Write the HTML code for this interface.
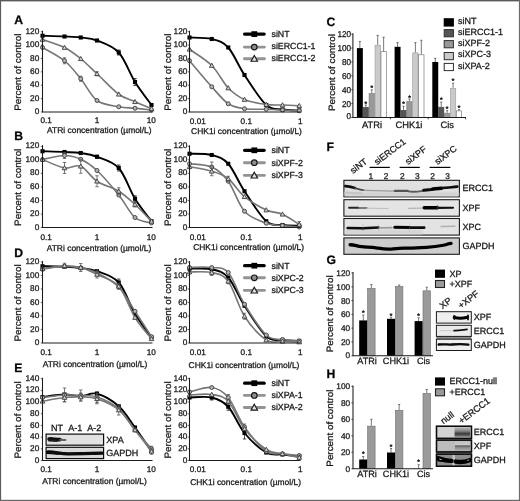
<!DOCTYPE html>
<html lang="en"><head><meta charset="utf-8"><title>Figure</title>
<style>html,body{margin:0;padding:0;background:#fff}svg{display:block}svg text{font-family:"Liberation Sans","Noto Sans CJK SC",sans-serif;text-rendering:geometricPrecision;stroke:#222;stroke-width:.28px}</style>
</head><body>
<svg width="520" height="501" viewBox="0 0 520 501">
<defs><filter id="b1" filterUnits="userSpaceOnUse" x="0" y="0" width="520" height="501"><feGaussianBlur stdDeviation="0.45"/></filter><filter id="b2" filterUnits="userSpaceOnUse" x="0" y="0" width="520" height="501"><feGaussianBlur stdDeviation="0.9"/></filter></defs>
<rect width="520" height="501" fill="#fff"/>
<rect x="0" y="0" width="520" height="1.4" fill="#5a5a5a"/>
<rect x="0" y="0" width="1.1" height="501" fill="#5a5a5a"/>
<rect x="518.9" y="0" width="1.1" height="501" fill="#6a6a6a"/>
<rect x="0" y="499.8" width="520" height="1.2" fill="#6a6a6a"/>
<text x="14.3" y="24.2" font-size="12.2" text-anchor="start" font-weight="bold" fill="#000" stroke="#000" stroke-width="0.45">A</text>
<text x="14.3" y="140" font-size="12.2" text-anchor="start" font-weight="bold" fill="#000" stroke="#000" stroke-width="0.45">B</text>
<text x="14.3" y="256.5" font-size="12.2" text-anchor="start" font-weight="bold" fill="#000" stroke="#000" stroke-width="0.45">D</text>
<text x="14.3" y="372" font-size="12.2" text-anchor="start" font-weight="bold" fill="#000" stroke="#000" stroke-width="0.45">E</text>
<text x="326.5" y="25.6" font-size="12.2" text-anchor="start" font-weight="bold" fill="#000" stroke="#000" stroke-width="0.45">C</text>
<text x="326.5" y="150.8" font-size="12.2" text-anchor="start" font-weight="bold" fill="#000" stroke="#000" stroke-width="0.45">F</text>
<text x="326.5" y="264.2" font-size="12.2" text-anchor="start" font-weight="bold" fill="#000" stroke="#000" stroke-width="0.45">G</text>
<text x="326.5" y="377.6" font-size="12.2" text-anchor="start" font-weight="bold" fill="#000" stroke="#000" stroke-width="0.45">H</text>
<text x="39.3" y="114.1" font-size="8.3" text-anchor="end" font-weight="normal" fill="#111">0</text>
<path d="M40.8,112.00 H42.5" stroke="#222" stroke-width="0.7"/>
<text x="39.3" y="100.71666666666667" font-size="8.3" text-anchor="end" font-weight="normal" fill="#111">20</text>
<path d="M40.8,98.62 H42.5" stroke="#222" stroke-width="0.7"/>
<text x="39.3" y="87.33333333333333" font-size="8.3" text-anchor="end" font-weight="normal" fill="#111">40</text>
<path d="M40.8,85.23 H42.5" stroke="#222" stroke-width="0.7"/>
<text x="39.3" y="73.94999999999999" font-size="8.3" text-anchor="end" font-weight="normal" fill="#111">60</text>
<path d="M40.8,71.85 H42.5" stroke="#222" stroke-width="0.7"/>
<text x="39.3" y="60.56666666666667" font-size="8.3" text-anchor="end" font-weight="normal" fill="#111">80</text>
<path d="M40.8,58.47 H42.5" stroke="#222" stroke-width="0.7"/>
<text x="39.3" y="47.18333333333333" font-size="8.3" text-anchor="end" font-weight="normal" fill="#111">100</text>
<path d="M40.8,45.08 H42.5" stroke="#222" stroke-width="0.7"/>
<text x="39.3" y="33.800000000000004" font-size="8.3" text-anchor="end" font-weight="normal" fill="#111">120</text>
<path d="M40.8,31.70 H42.5" stroke="#222" stroke-width="0.7"/>
<text transform="translate(20.7 72.25) rotate(-90) scale(1.06 1)" font-size="9.3" text-anchor="middle" font-weight="normal" fill="#111">Percent of control</text>
<path d="M42.50,35.75 C46.17,35.88 58.12,36.21 64.50,36.50 C70.88,36.79 75.33,36.83 80.75,37.50 C86.17,38.17 90.67,38.00 97.00,40.50 C103.33,43.00 112.42,45.58 118.75,52.50 C125.08,59.42 129.54,73.25 135.00,82.00 C140.46,90.75 148.75,101.17 151.50,105.00" fill="none" stroke="#000" stroke-width="1.9" stroke-linejoin="round"/>
<path d="M118.75,50.00 V55.00 M117.05,50.00 h3.4 M117.05,55.00 h3.4" stroke="#222" stroke-width="0.8" fill="none"/>
<path d="M135.00,78.50 V85.50 M133.30,78.50 h3.4 M133.30,85.50 h3.4" stroke="#222" stroke-width="0.8" fill="none"/>
<rect x="40.45" y="33.70" width="4.10" height="4.10" fill="#000"/>
<rect x="62.45" y="34.45" width="4.10" height="4.10" fill="#000"/>
<rect x="78.70" y="35.45" width="4.10" height="4.10" fill="#000"/>
<rect x="94.95" y="38.45" width="4.10" height="4.10" fill="#000"/>
<rect x="116.70" y="50.45" width="4.10" height="4.10" fill="#000"/>
<rect x="132.95" y="79.95" width="4.10" height="4.10" fill="#000"/>
<rect x="149.45" y="102.95" width="4.10" height="4.10" fill="#000"/>
<path d="M42.50,47.50 C46.17,49.71 58.12,55.54 64.50,60.75 C70.88,65.96 75.33,72.12 80.75,78.75 C86.17,85.38 90.67,95.83 97.00,100.50 C103.33,105.17 112.42,105.46 118.75,106.75 C125.08,108.04 129.54,107.71 135.00,108.25 C140.46,108.79 148.75,109.71 151.50,110.00" fill="none" stroke="#767676" stroke-width="1.6" stroke-linejoin="round"/>
<path d="M64.50,57.75 V63.75 M62.80,57.75 h3.4 M62.80,63.75 h3.4" stroke="#555" stroke-width="0.8" fill="none"/>
<path d="M80.75,76.25 V81.25 M79.05,76.25 h3.4 M79.05,81.25 h3.4" stroke="#555" stroke-width="0.8" fill="none"/>
<circle cx="42.50" cy="47.50" r="2.00" fill="#b4b4b4" stroke="#3c3c3c" stroke-width="0.9"/>
<circle cx="64.50" cy="60.75" r="2.00" fill="#b4b4b4" stroke="#3c3c3c" stroke-width="0.9"/>
<circle cx="80.75" cy="78.75" r="2.00" fill="#b4b4b4" stroke="#3c3c3c" stroke-width="0.9"/>
<circle cx="97.00" cy="100.50" r="2.00" fill="#b4b4b4" stroke="#3c3c3c" stroke-width="0.9"/>
<circle cx="118.75" cy="106.75" r="2.00" fill="#b4b4b4" stroke="#3c3c3c" stroke-width="0.9"/>
<circle cx="135.00" cy="108.25" r="2.00" fill="#b4b4b4" stroke="#3c3c3c" stroke-width="0.9"/>
<circle cx="151.50" cy="110.00" r="2.00" fill="#b4b4b4" stroke="#3c3c3c" stroke-width="0.9"/>
<path d="M42.50,39.50 C46.17,40.83 58.12,44.29 64.50,47.50 C70.88,50.71 75.33,54.38 80.75,58.75 C86.17,63.12 90.67,67.83 97.00,73.75 C103.33,79.67 112.42,89.58 118.75,94.25 C125.08,98.92 129.54,99.33 135.00,101.75 C140.46,104.17 148.75,107.58 151.50,108.75" fill="none" stroke="#767676" stroke-width="1.6" stroke-linejoin="round"/>
<path d="M97.00,71.75 V75.75 M95.30,71.75 h3.4 M95.30,75.75 h3.4" stroke="#555" stroke-width="0.8" fill="none"/>
<path d="M42.50,37.20 L44.80,41.34 L40.20,41.34 Z" fill="#d2d2d2" stroke="#3c3c3c" stroke-width="0.9"/>
<path d="M64.50,45.20 L66.80,49.34 L62.20,49.34 Z" fill="#d2d2d2" stroke="#3c3c3c" stroke-width="0.9"/>
<path d="M80.75,56.45 L83.05,60.59 L78.45,60.59 Z" fill="#d2d2d2" stroke="#3c3c3c" stroke-width="0.9"/>
<path d="M97.00,71.45 L99.30,75.59 L94.70,75.59 Z" fill="#d2d2d2" stroke="#3c3c3c" stroke-width="0.9"/>
<path d="M118.75,91.95 L121.05,96.09 L116.45,96.09 Z" fill="#d2d2d2" stroke="#3c3c3c" stroke-width="0.9"/>
<path d="M135.00,99.45 L137.30,103.59 L132.70,103.59 Z" fill="#d2d2d2" stroke="#3c3c3c" stroke-width="0.9"/>
<path d="M151.50,106.45 L153.80,110.59 L149.20,110.59 Z" fill="#d2d2d2" stroke="#3c3c3c" stroke-width="0.9"/>
<path d="M42.5,30.7 V112 H152.5" fill="none" stroke="#1c1c1c" stroke-width="1.05"/>
<text x="40.5" y="122.6" font-size="8.2" text-anchor="start" font-weight="normal" fill="#111">0.1</text>
<text x="97" y="122.6" font-size="8.2" text-anchor="middle" font-weight="normal" fill="#111">1</text>
<text x="151.2" y="122.6" font-size="8.2" text-anchor="middle" font-weight="normal" fill="#111">10</text>
<text x="99.3" y="133.2" font-size="8.45" text-anchor="middle" font-weight="normal" fill="#111">ATRi concentration (µmol/L)</text>
<text x="187.4" y="114.1" font-size="8.3" text-anchor="end" font-weight="normal" fill="#111">0</text>
<path d="M187.8,112.00 H189.5" stroke="#222" stroke-width="0.7"/>
<text x="187.4" y="100.71666666666667" font-size="8.3" text-anchor="end" font-weight="normal" fill="#111">20</text>
<path d="M187.8,98.62 H189.5" stroke="#222" stroke-width="0.7"/>
<text x="187.4" y="87.33333333333333" font-size="8.3" text-anchor="end" font-weight="normal" fill="#111">40</text>
<path d="M187.8,85.23 H189.5" stroke="#222" stroke-width="0.7"/>
<text x="187.4" y="73.94999999999999" font-size="8.3" text-anchor="end" font-weight="normal" fill="#111">60</text>
<path d="M187.8,71.85 H189.5" stroke="#222" stroke-width="0.7"/>
<text x="187.4" y="60.56666666666667" font-size="8.3" text-anchor="end" font-weight="normal" fill="#111">80</text>
<path d="M187.8,58.47 H189.5" stroke="#222" stroke-width="0.7"/>
<text x="187.4" y="47.18333333333333" font-size="8.3" text-anchor="end" font-weight="normal" fill="#111">100</text>
<path d="M187.8,45.08 H189.5" stroke="#222" stroke-width="0.7"/>
<text x="187.4" y="33.800000000000004" font-size="8.3" text-anchor="end" font-weight="normal" fill="#111">120</text>
<path d="M187.8,31.70 H189.5" stroke="#222" stroke-width="0.7"/>
<text transform="translate(171.39999999999998 72.25) rotate(-90) scale(1.06 1)" font-size="9.3" text-anchor="middle" font-weight="normal" fill="#111">Percent of control</text>
<path d="M189.50,37.50 C193.21,37.75 205.29,37.33 211.75,39.00 C218.21,40.67 222.79,41.50 228.25,47.50 C233.71,53.50 238.17,65.42 244.50,75.00 C250.83,84.58 259.92,99.25 266.25,105.00 C272.58,110.75 277.00,108.58 282.50,109.50 C288.00,110.42 296.46,110.33 299.25,110.50" fill="none" stroke="#000" stroke-width="1.9" stroke-linejoin="round"/>
<rect x="187.45" y="35.45" width="4.10" height="4.10" fill="#000"/>
<rect x="209.70" y="36.95" width="4.10" height="4.10" fill="#000"/>
<rect x="226.20" y="45.45" width="4.10" height="4.10" fill="#000"/>
<rect x="242.45" y="72.95" width="4.10" height="4.10" fill="#000"/>
<rect x="264.20" y="102.95" width="4.10" height="4.10" fill="#000"/>
<rect x="280.45" y="107.45" width="4.10" height="4.10" fill="#000"/>
<rect x="297.20" y="108.45" width="4.10" height="4.10" fill="#000"/>
<path d="M189.50,60.75 C193.21,65.08 205.29,79.58 211.75,86.75 C218.21,93.92 222.79,100.08 228.25,103.75 C233.71,107.42 238.17,107.83 244.50,108.75 C250.83,109.67 259.92,109.04 266.25,109.25 C272.58,109.46 277.00,109.75 282.50,110.00 C288.00,110.25 296.46,110.62 299.25,110.75" fill="none" stroke="#767676" stroke-width="1.6" stroke-linejoin="round"/>
<circle cx="189.50" cy="60.75" r="2.00" fill="#b4b4b4" stroke="#3c3c3c" stroke-width="0.9"/>
<circle cx="211.75" cy="86.75" r="2.00" fill="#b4b4b4" stroke="#3c3c3c" stroke-width="0.9"/>
<circle cx="228.25" cy="103.75" r="2.00" fill="#b4b4b4" stroke="#3c3c3c" stroke-width="0.9"/>
<circle cx="244.50" cy="108.75" r="2.00" fill="#b4b4b4" stroke="#3c3c3c" stroke-width="0.9"/>
<circle cx="266.25" cy="109.25" r="2.00" fill="#b4b4b4" stroke="#3c3c3c" stroke-width="0.9"/>
<circle cx="282.50" cy="110.00" r="2.00" fill="#b4b4b4" stroke="#3c3c3c" stroke-width="0.9"/>
<circle cx="299.25" cy="110.75" r="2.00" fill="#b4b4b4" stroke="#3c3c3c" stroke-width="0.9"/>
<path d="M189.50,49.25 C193.21,51.96 205.29,59.04 211.75,65.50 C218.21,71.96 222.79,82.33 228.25,88.00 C233.71,93.67 238.17,96.75 244.50,99.50 C250.83,102.25 259.92,103.58 266.25,104.50 C272.58,105.42 277.00,104.79 282.50,105.00 C288.00,105.21 296.46,105.62 299.25,105.75" fill="none" stroke="#767676" stroke-width="1.6" stroke-linejoin="round"/>
<path d="M189.50,46.95 L191.80,51.09 L187.20,51.09 Z" fill="#d2d2d2" stroke="#3c3c3c" stroke-width="0.9"/>
<path d="M211.75,63.20 L214.05,67.34 L209.45,67.34 Z" fill="#d2d2d2" stroke="#3c3c3c" stroke-width="0.9"/>
<path d="M228.25,85.70 L230.55,89.84 L225.95,89.84 Z" fill="#d2d2d2" stroke="#3c3c3c" stroke-width="0.9"/>
<path d="M244.50,97.20 L246.80,101.34 L242.20,101.34 Z" fill="#d2d2d2" stroke="#3c3c3c" stroke-width="0.9"/>
<path d="M266.25,102.20 L268.55,106.34 L263.95,106.34 Z" fill="#d2d2d2" stroke="#3c3c3c" stroke-width="0.9"/>
<path d="M282.50,102.70 L284.80,106.84 L280.20,106.84 Z" fill="#d2d2d2" stroke="#3c3c3c" stroke-width="0.9"/>
<path d="M299.25,103.45 L301.55,107.59 L296.95,107.59 Z" fill="#d2d2d2" stroke="#3c3c3c" stroke-width="0.9"/>
<path d="M189.5,30.7 V112 H300.25" fill="none" stroke="#1c1c1c" stroke-width="1.05"/>
<text x="189.8" y="123.6" font-size="8.2" text-anchor="start" font-weight="normal" fill="#111">0.01</text>
<text x="246.3" y="123.6" font-size="8.2" text-anchor="middle" font-weight="normal" fill="#111">0.1</text>
<text x="300.3" y="123.6" font-size="8.2" text-anchor="middle" font-weight="normal" fill="#111">1</text>
<text x="246.5" y="133.8" font-size="8.45" text-anchor="middle" font-weight="normal" fill="#111">CHK1i concentration (µmol/L)</text>
<path d="M244.60000000000002,34.1 H264.2" stroke="#000" stroke-width="3.2" stroke-linecap="round"/>
<rect x="251.43" y="31.23" width="5.74" height="5.74" fill="#000"/>
<text x="271.5" y="37.1" font-size="8.8" text-anchor="start" font-weight="normal" fill="#111">siNT</text>
<path d="M244.4,47.1 H264.40000000000003" stroke="#939393" stroke-width="2.9" stroke-linecap="round"/>
<circle cx="254.30" cy="47.10" r="2.80" fill="#8e8e8e" stroke="#151515" stroke-width="1.15"/>
<text x="271.5" y="49.3" font-size="8.8" text-anchor="start" font-weight="normal" fill="#111">siERCC1-1</text>
<path d="M244.4,58.7 H264.40000000000003" stroke="#939393" stroke-width="2.9" stroke-linecap="round"/>
<path d="M254.30,55.48 L257.52,61.28 L251.08,61.28 Z" fill="#e6e6e6" stroke="#151515" stroke-width="1.15"/>
<text x="271.5" y="61.1" font-size="8.8" text-anchor="start" font-weight="normal" fill="#111">siERCC1-2</text>
<text x="39.3" y="229.6" font-size="8.3" text-anchor="end" font-weight="normal" fill="#111">0</text>
<path d="M40.8,227.50 H42.5" stroke="#222" stroke-width="0.7"/>
<text x="39.3" y="216.06666666666666" font-size="8.3" text-anchor="end" font-weight="normal" fill="#111">20</text>
<path d="M40.8,213.97 H42.5" stroke="#222" stroke-width="0.7"/>
<text x="39.3" y="202.53333333333333" font-size="8.3" text-anchor="end" font-weight="normal" fill="#111">40</text>
<path d="M40.8,200.43 H42.5" stroke="#222" stroke-width="0.7"/>
<text x="39.3" y="189.0" font-size="8.3" text-anchor="end" font-weight="normal" fill="#111">60</text>
<path d="M40.8,186.90 H42.5" stroke="#222" stroke-width="0.7"/>
<text x="39.3" y="175.46666666666667" font-size="8.3" text-anchor="end" font-weight="normal" fill="#111">80</text>
<path d="M40.8,173.37 H42.5" stroke="#222" stroke-width="0.7"/>
<text x="39.3" y="161.93333333333334" font-size="8.3" text-anchor="end" font-weight="normal" fill="#111">100</text>
<path d="M40.8,159.83 H42.5" stroke="#222" stroke-width="0.7"/>
<text x="39.3" y="148.4" font-size="8.3" text-anchor="end" font-weight="normal" fill="#111">120</text>
<path d="M40.8,146.30 H42.5" stroke="#222" stroke-width="0.7"/>
<text transform="translate(20.7 187.3) rotate(-90) scale(1.06 1)" font-size="9.3" text-anchor="middle" font-weight="normal" fill="#111">Percent of control</text>
<path d="M42.50,151.25 C46.17,151.38 58.12,151.71 64.50,152.00 C70.88,152.29 75.33,152.21 80.75,153.00 C86.17,153.79 90.67,154.25 97.00,156.75 C103.33,159.25 112.42,161.00 118.75,168.00 C125.08,175.00 129.54,189.88 135.00,198.75 C140.46,207.62 148.75,217.50 151.50,221.25" fill="none" stroke="#000" stroke-width="1.9" stroke-linejoin="round"/>
<path d="M97.00,155.25 V158.25 M95.30,155.25 h3.4 M95.30,158.25 h3.4" stroke="#222" stroke-width="0.8" fill="none"/>
<path d="M118.75,165.00 V171.00 M117.05,165.00 h3.4 M117.05,171.00 h3.4" stroke="#222" stroke-width="0.8" fill="none"/>
<path d="M135.00,195.75 V201.75 M133.30,195.75 h3.4 M133.30,201.75 h3.4" stroke="#222" stroke-width="0.8" fill="none"/>
<rect x="40.45" y="149.20" width="4.10" height="4.10" fill="#000"/>
<rect x="62.45" y="149.95" width="4.10" height="4.10" fill="#000"/>
<rect x="78.70" y="150.95" width="4.10" height="4.10" fill="#000"/>
<rect x="94.95" y="154.70" width="4.10" height="4.10" fill="#000"/>
<rect x="116.70" y="165.95" width="4.10" height="4.10" fill="#000"/>
<rect x="132.95" y="196.70" width="4.10" height="4.10" fill="#000"/>
<rect x="149.45" y="219.20" width="4.10" height="4.10" fill="#000"/>
<path d="M42.50,159.50 C46.17,158.83 58.12,155.54 64.50,155.50 C70.88,155.46 75.33,156.75 80.75,159.25 C86.17,161.75 90.67,164.54 97.00,170.50 C103.33,176.46 112.42,187.17 118.75,195.00 C125.08,202.83 129.54,212.83 135.00,217.50 C140.46,222.17 148.75,222.08 151.50,223.00" fill="none" stroke="#767676" stroke-width="1.6" stroke-linejoin="round"/>
<path d="M64.50,152.50 V158.50 M62.80,152.50 h3.4 M62.80,158.50 h3.4" stroke="#555" stroke-width="0.8" fill="none"/>
<circle cx="42.50" cy="159.50" r="2.00" fill="#b4b4b4" stroke="#3c3c3c" stroke-width="0.9"/>
<circle cx="64.50" cy="155.50" r="2.00" fill="#b4b4b4" stroke="#3c3c3c" stroke-width="0.9"/>
<circle cx="80.75" cy="159.25" r="2.00" fill="#b4b4b4" stroke="#3c3c3c" stroke-width="0.9"/>
<circle cx="97.00" cy="170.50" r="2.00" fill="#b4b4b4" stroke="#3c3c3c" stroke-width="0.9"/>
<circle cx="118.75" cy="195.00" r="2.00" fill="#b4b4b4" stroke="#3c3c3c" stroke-width="0.9"/>
<circle cx="135.00" cy="217.50" r="2.00" fill="#b4b4b4" stroke="#3c3c3c" stroke-width="0.9"/>
<circle cx="151.50" cy="223.00" r="2.00" fill="#b4b4b4" stroke="#3c3c3c" stroke-width="0.9"/>
<path d="M42.50,159.50 C46.17,160.92 58.12,166.88 64.50,168.00 C70.88,169.12 75.33,164.04 80.75,166.25 C86.17,168.46 90.67,177.08 97.00,181.25 C103.33,185.42 112.42,187.38 118.75,191.25 C125.08,195.12 129.54,199.50 135.00,204.50 C140.46,209.50 148.75,218.46 151.50,221.25" fill="none" stroke="#767676" stroke-width="1.6" stroke-linejoin="round"/>
<path d="M64.50,162.50 V173.50 M62.80,162.50 h3.4 M62.80,173.50 h3.4" stroke="#555" stroke-width="0.8" fill="none"/>
<path d="M80.75,159.25 V173.25 M79.05,159.25 h3.4 M79.05,173.25 h3.4" stroke="#555" stroke-width="0.8" fill="none"/>
<path d="M97.00,175.75 V186.75 M95.30,175.75 h3.4 M95.30,186.75 h3.4" stroke="#555" stroke-width="0.8" fill="none"/>
<path d="M118.75,187.75 V194.75 M117.05,187.75 h3.4 M117.05,194.75 h3.4" stroke="#555" stroke-width="0.8" fill="none"/>
<path d="M135.00,202.00 V207.00 M133.30,202.00 h3.4 M133.30,207.00 h3.4" stroke="#555" stroke-width="0.8" fill="none"/>
<path d="M42.50,157.20 L44.80,161.34 L40.20,161.34 Z" fill="#d2d2d2" stroke="#3c3c3c" stroke-width="0.9"/>
<path d="M64.50,165.70 L66.80,169.84 L62.20,169.84 Z" fill="#d2d2d2" stroke="#3c3c3c" stroke-width="0.9"/>
<path d="M80.75,163.95 L83.05,168.09 L78.45,168.09 Z" fill="#d2d2d2" stroke="#3c3c3c" stroke-width="0.9"/>
<path d="M97.00,178.95 L99.30,183.09 L94.70,183.09 Z" fill="#d2d2d2" stroke="#3c3c3c" stroke-width="0.9"/>
<path d="M118.75,188.95 L121.05,193.09 L116.45,193.09 Z" fill="#d2d2d2" stroke="#3c3c3c" stroke-width="0.9"/>
<path d="M135.00,202.20 L137.30,206.34 L132.70,206.34 Z" fill="#d2d2d2" stroke="#3c3c3c" stroke-width="0.9"/>
<path d="M151.50,218.95 L153.80,223.09 L149.20,223.09 Z" fill="#d2d2d2" stroke="#3c3c3c" stroke-width="0.9"/>
<path d="M42.5,145.3 V227.5 H152.5" fill="none" stroke="#1c1c1c" stroke-width="1.05"/>
<text x="40.5" y="239.5" font-size="8.2" text-anchor="start" font-weight="normal" fill="#111">0.1</text>
<text x="97" y="239.5" font-size="8.2" text-anchor="middle" font-weight="normal" fill="#111">1</text>
<text x="151.2" y="239.5" font-size="8.2" text-anchor="middle" font-weight="normal" fill="#111">10</text>
<text x="99" y="250.5" font-size="8.45" text-anchor="middle" font-weight="normal" fill="#111">ATRi concentration (µmol/L)</text>
<text x="187.4" y="229.6" font-size="8.3" text-anchor="end" font-weight="normal" fill="#111">0</text>
<path d="M187.8,227.50 H189.5" stroke="#222" stroke-width="0.7"/>
<text x="187.4" y="216.06666666666666" font-size="8.3" text-anchor="end" font-weight="normal" fill="#111">20</text>
<path d="M187.8,213.97 H189.5" stroke="#222" stroke-width="0.7"/>
<text x="187.4" y="202.53333333333333" font-size="8.3" text-anchor="end" font-weight="normal" fill="#111">40</text>
<path d="M187.8,200.43 H189.5" stroke="#222" stroke-width="0.7"/>
<text x="187.4" y="189.0" font-size="8.3" text-anchor="end" font-weight="normal" fill="#111">60</text>
<path d="M187.8,186.90 H189.5" stroke="#222" stroke-width="0.7"/>
<text x="187.4" y="175.46666666666667" font-size="8.3" text-anchor="end" font-weight="normal" fill="#111">80</text>
<path d="M187.8,173.37 H189.5" stroke="#222" stroke-width="0.7"/>
<text x="187.4" y="161.93333333333334" font-size="8.3" text-anchor="end" font-weight="normal" fill="#111">100</text>
<path d="M187.8,159.83 H189.5" stroke="#222" stroke-width="0.7"/>
<text x="187.4" y="148.4" font-size="8.3" text-anchor="end" font-weight="normal" fill="#111">120</text>
<path d="M187.8,146.30 H189.5" stroke="#222" stroke-width="0.7"/>
<text transform="translate(171.39999999999998 187.3) rotate(-90) scale(1.06 1)" font-size="9.3" text-anchor="middle" font-weight="normal" fill="#111">Percent of control</text>
<path d="M189.50,153.75 C193.21,153.96 205.29,153.33 211.75,155.00 C218.21,156.67 222.79,157.71 228.25,163.75 C233.71,169.79 238.17,181.67 244.50,191.25 C250.83,200.83 259.92,215.62 266.25,221.25 C272.58,226.88 277.00,224.25 282.50,225.00 C288.00,225.75 296.46,225.62 299.25,225.75" fill="none" stroke="#000" stroke-width="1.9" stroke-linejoin="round"/>
<rect x="187.45" y="151.70" width="4.10" height="4.10" fill="#000"/>
<rect x="209.70" y="152.95" width="4.10" height="4.10" fill="#000"/>
<rect x="226.20" y="161.70" width="4.10" height="4.10" fill="#000"/>
<rect x="242.45" y="189.20" width="4.10" height="4.10" fill="#000"/>
<rect x="264.20" y="219.20" width="4.10" height="4.10" fill="#000"/>
<rect x="280.45" y="222.95" width="4.10" height="4.10" fill="#000"/>
<rect x="297.20" y="223.70" width="4.10" height="4.10" fill="#000"/>
<path d="M189.50,163.75 C193.21,164.29 205.29,164.08 211.75,167.00 C218.21,169.92 222.79,173.88 228.25,181.25 C233.71,188.62 238.17,204.25 244.50,211.25 C250.83,218.25 259.92,220.88 266.25,223.25 C272.58,225.62 277.00,224.88 282.50,225.50 C288.00,226.12 296.46,226.75 299.25,227.00" fill="none" stroke="#767676" stroke-width="1.6" stroke-linejoin="round"/>
<path d="M211.75,162.00 V172.00 M210.05,162.00 h3.4 M210.05,172.00 h3.4" stroke="#555" stroke-width="0.8" fill="none"/>
<circle cx="189.50" cy="163.75" r="2.00" fill="#b4b4b4" stroke="#3c3c3c" stroke-width="0.9"/>
<circle cx="211.75" cy="167.00" r="2.00" fill="#b4b4b4" stroke="#3c3c3c" stroke-width="0.9"/>
<circle cx="228.25" cy="181.25" r="2.00" fill="#b4b4b4" stroke="#3c3c3c" stroke-width="0.9"/>
<circle cx="244.50" cy="211.25" r="2.00" fill="#b4b4b4" stroke="#3c3c3c" stroke-width="0.9"/>
<circle cx="266.25" cy="223.25" r="2.00" fill="#b4b4b4" stroke="#3c3c3c" stroke-width="0.9"/>
<circle cx="282.50" cy="225.50" r="2.00" fill="#b4b4b4" stroke="#3c3c3c" stroke-width="0.9"/>
<circle cx="299.25" cy="227.00" r="2.00" fill="#b4b4b4" stroke="#3c3c3c" stroke-width="0.9"/>
<path d="M189.50,166.75 C193.21,167.50 205.29,169.25 211.75,171.25 C218.21,173.25 222.79,174.50 228.25,178.75 C233.71,183.00 238.17,191.54 244.50,196.75 C250.83,201.96 259.92,207.08 266.25,210.00 C272.58,212.92 277.00,211.83 282.50,214.25 C288.00,216.67 296.46,222.79 299.25,224.50" fill="none" stroke="#767676" stroke-width="1.6" stroke-linejoin="round"/>
<path d="M211.75,166.75 V175.75 M210.05,166.75 h3.4 M210.05,175.75 h3.4" stroke="#555" stroke-width="0.8" fill="none"/>
<path d="M228.25,176.25 V181.25 M226.55,176.25 h3.4 M226.55,181.25 h3.4" stroke="#555" stroke-width="0.8" fill="none"/>
<path d="M299.25,221.50 V227.50 M297.55,221.50 h3.4 M297.55,227.50 h3.4" stroke="#555" stroke-width="0.8" fill="none"/>
<path d="M189.50,164.45 L191.80,168.59 L187.20,168.59 Z" fill="#d2d2d2" stroke="#3c3c3c" stroke-width="0.9"/>
<path d="M211.75,168.95 L214.05,173.09 L209.45,173.09 Z" fill="#d2d2d2" stroke="#3c3c3c" stroke-width="0.9"/>
<path d="M228.25,176.45 L230.55,180.59 L225.95,180.59 Z" fill="#d2d2d2" stroke="#3c3c3c" stroke-width="0.9"/>
<path d="M244.50,194.45 L246.80,198.59 L242.20,198.59 Z" fill="#d2d2d2" stroke="#3c3c3c" stroke-width="0.9"/>
<path d="M266.25,207.70 L268.55,211.84 L263.95,211.84 Z" fill="#d2d2d2" stroke="#3c3c3c" stroke-width="0.9"/>
<path d="M282.50,211.95 L284.80,216.09 L280.20,216.09 Z" fill="#d2d2d2" stroke="#3c3c3c" stroke-width="0.9"/>
<path d="M299.25,222.20 L301.55,226.34 L296.95,226.34 Z" fill="#d2d2d2" stroke="#3c3c3c" stroke-width="0.9"/>
<path d="M189.5,145.3 V227.5 H300.25" fill="none" stroke="#1c1c1c" stroke-width="1.05"/>
<text x="189.8" y="239.5" font-size="8.2" text-anchor="start" font-weight="normal" fill="#111">0.01</text>
<text x="246.3" y="239.5" font-size="8.2" text-anchor="middle" font-weight="normal" fill="#111">0.1</text>
<text x="300.3" y="239.5" font-size="8.2" text-anchor="middle" font-weight="normal" fill="#111">1</text>
<text x="248.6" y="250.1" font-size="8.45" text-anchor="middle" font-weight="normal" fill="#111">CHK1i concentration (µmol/L)</text>
<path d="M244.60000000000002,150.3 H264.2" stroke="#000" stroke-width="3.2" stroke-linecap="round"/>
<rect x="251.43" y="147.43" width="5.74" height="5.74" fill="#000"/>
<text x="271.5" y="153.4" font-size="8.8" text-anchor="start" font-weight="normal" fill="#111">siNT</text>
<path d="M244.4,162.7 H264.40000000000003" stroke="#939393" stroke-width="2.9" stroke-linecap="round"/>
<circle cx="254.30" cy="162.70" r="2.80" fill="#8e8e8e" stroke="#151515" stroke-width="1.15"/>
<text x="271.5" y="165.7" font-size="8.8" text-anchor="start" font-weight="normal" fill="#111">siXPF-2</text>
<path d="M244.4,175.4 H264.40000000000003" stroke="#939393" stroke-width="2.9" stroke-linecap="round"/>
<path d="M254.30,172.18 L257.52,177.98 L251.08,177.98 Z" fill="#e6e6e6" stroke="#151515" stroke-width="1.15"/>
<text x="271.5" y="177.5" font-size="8.8" text-anchor="start" font-weight="normal" fill="#111">siXPF-3</text>
<text x="39.3" y="345.1" font-size="8.3" text-anchor="end" font-weight="normal" fill="#111">0</text>
<path d="M40.8,343.00 H42.5" stroke="#222" stroke-width="0.7"/>
<text x="39.3" y="331.6" font-size="8.3" text-anchor="end" font-weight="normal" fill="#111">20</text>
<path d="M40.8,329.50 H42.5" stroke="#222" stroke-width="0.7"/>
<text x="39.3" y="318.1" font-size="8.3" text-anchor="end" font-weight="normal" fill="#111">40</text>
<path d="M40.8,316.00 H42.5" stroke="#222" stroke-width="0.7"/>
<text x="39.3" y="304.6" font-size="8.3" text-anchor="end" font-weight="normal" fill="#111">60</text>
<path d="M40.8,302.50 H42.5" stroke="#222" stroke-width="0.7"/>
<text x="39.3" y="291.1" font-size="8.3" text-anchor="end" font-weight="normal" fill="#111">80</text>
<path d="M40.8,289.00 H42.5" stroke="#222" stroke-width="0.7"/>
<text x="39.3" y="277.6" font-size="8.3" text-anchor="end" font-weight="normal" fill="#111">100</text>
<path d="M40.8,275.50 H42.5" stroke="#222" stroke-width="0.7"/>
<text x="39.3" y="264.1" font-size="8.3" text-anchor="end" font-weight="normal" fill="#111">120</text>
<path d="M40.8,262.00 H42.5" stroke="#222" stroke-width="0.7"/>
<text transform="translate(20.7 302.9) rotate(-90) scale(1.06 1)" font-size="9.3" text-anchor="middle" font-weight="normal" fill="#111">Percent of control</text>
<path d="M42.50,266.25 C46.17,266.33 58.12,266.46 64.50,266.75 C70.88,267.04 75.33,267.25 80.75,268.00 C86.17,268.75 90.67,268.83 97.00,271.25 C103.33,273.67 112.42,275.42 118.75,282.50 C125.08,289.58 129.54,304.58 135.00,313.75 C140.46,322.92 148.75,333.54 151.50,337.50" fill="none" stroke="#000" stroke-width="1.9" stroke-linejoin="round"/>
<path d="M118.75,279.00 V286.00 M117.05,279.00 h3.4 M117.05,286.00 h3.4" stroke="#222" stroke-width="0.8" fill="none"/>
<rect x="40.45" y="264.20" width="4.10" height="4.10" fill="#000"/>
<rect x="62.45" y="264.70" width="4.10" height="4.10" fill="#000"/>
<rect x="78.70" y="265.95" width="4.10" height="4.10" fill="#000"/>
<rect x="94.95" y="269.20" width="4.10" height="4.10" fill="#000"/>
<rect x="116.70" y="280.45" width="4.10" height="4.10" fill="#000"/>
<rect x="132.95" y="311.70" width="4.10" height="4.10" fill="#000"/>
<rect x="149.45" y="335.45" width="4.10" height="4.10" fill="#000"/>
<path d="M42.50,269.25 C46.17,268.75 58.12,266.46 64.50,266.25 C70.88,266.04 75.33,266.88 80.75,268.00 C86.17,269.12 90.67,269.83 97.00,273.00 C103.33,276.17 112.42,280.62 118.75,287.00 C125.08,293.38 129.54,302.96 135.00,311.25 C140.46,319.54 148.75,332.50 151.50,336.75" fill="none" stroke="#767676" stroke-width="1.6" stroke-linejoin="round"/>
<circle cx="42.50" cy="269.25" r="2.00" fill="#b4b4b4" stroke="#3c3c3c" stroke-width="0.9"/>
<circle cx="64.50" cy="266.25" r="2.00" fill="#b4b4b4" stroke="#3c3c3c" stroke-width="0.9"/>
<circle cx="80.75" cy="268.00" r="2.00" fill="#b4b4b4" stroke="#3c3c3c" stroke-width="0.9"/>
<circle cx="97.00" cy="273.00" r="2.00" fill="#b4b4b4" stroke="#3c3c3c" stroke-width="0.9"/>
<circle cx="118.75" cy="287.00" r="2.00" fill="#b4b4b4" stroke="#3c3c3c" stroke-width="0.9"/>
<circle cx="135.00" cy="311.25" r="2.00" fill="#b4b4b4" stroke="#3c3c3c" stroke-width="0.9"/>
<circle cx="151.50" cy="336.75" r="2.00" fill="#b4b4b4" stroke="#3c3c3c" stroke-width="0.9"/>
<path d="M42.50,268.75 C46.17,268.25 58.12,265.96 64.50,265.75 C70.88,265.54 75.33,266.04 80.75,267.50 C86.17,268.96 90.67,271.38 97.00,274.50 C103.33,277.62 112.42,279.08 118.75,286.25 C125.08,293.42 129.54,308.75 135.00,317.50 C140.46,326.25 148.75,335.21 151.50,338.75" fill="none" stroke="#767676" stroke-width="1.6" stroke-linejoin="round"/>
<path d="M64.50,263.25 V268.25 M62.80,263.25 h3.4 M62.80,268.25 h3.4" stroke="#555" stroke-width="0.8" fill="none"/>
<path d="M80.75,263.50 V271.50 M79.05,263.50 h3.4 M79.05,271.50 h3.4" stroke="#555" stroke-width="0.8" fill="none"/>
<path d="M97.00,271.00 V278.00 M95.30,271.00 h3.4 M95.30,278.00 h3.4" stroke="#555" stroke-width="0.8" fill="none"/>
<path d="M118.75,283.25 V289.25 M117.05,283.25 h3.4 M117.05,289.25 h3.4" stroke="#555" stroke-width="0.8" fill="none"/>
<path d="M42.50,266.45 L44.80,270.59 L40.20,270.59 Z" fill="#d2d2d2" stroke="#3c3c3c" stroke-width="0.9"/>
<path d="M64.50,263.45 L66.80,267.59 L62.20,267.59 Z" fill="#d2d2d2" stroke="#3c3c3c" stroke-width="0.9"/>
<path d="M80.75,265.20 L83.05,269.34 L78.45,269.34 Z" fill="#d2d2d2" stroke="#3c3c3c" stroke-width="0.9"/>
<path d="M97.00,272.20 L99.30,276.34 L94.70,276.34 Z" fill="#d2d2d2" stroke="#3c3c3c" stroke-width="0.9"/>
<path d="M118.75,283.95 L121.05,288.09 L116.45,288.09 Z" fill="#d2d2d2" stroke="#3c3c3c" stroke-width="0.9"/>
<path d="M135.00,315.20 L137.30,319.34 L132.70,319.34 Z" fill="#d2d2d2" stroke="#3c3c3c" stroke-width="0.9"/>
<path d="M151.50,336.45 L153.80,340.59 L149.20,340.59 Z" fill="#d2d2d2" stroke="#3c3c3c" stroke-width="0.9"/>
<path d="M42.5,261 V343 H152.5" fill="none" stroke="#1c1c1c" stroke-width="1.05"/>
<text x="40.5" y="354.5" font-size="8.2" text-anchor="start" font-weight="normal" fill="#111">0.1</text>
<text x="97" y="354.5" font-size="8.2" text-anchor="middle" font-weight="normal" fill="#111">1</text>
<text x="151.2" y="354.5" font-size="8.2" text-anchor="middle" font-weight="normal" fill="#111">10</text>
<text x="95" y="367" font-size="8.45" text-anchor="middle" font-weight="normal" fill="#111">ATRi concentration (µmol/L)</text>
<text x="187.4" y="345.1" font-size="8.3" text-anchor="end" font-weight="normal" fill="#111">0</text>
<path d="M187.8,343.00 H189.5" stroke="#222" stroke-width="0.7"/>
<text x="187.4" y="331.6" font-size="8.3" text-anchor="end" font-weight="normal" fill="#111">20</text>
<path d="M187.8,329.50 H189.5" stroke="#222" stroke-width="0.7"/>
<text x="187.4" y="318.1" font-size="8.3" text-anchor="end" font-weight="normal" fill="#111">40</text>
<path d="M187.8,316.00 H189.5" stroke="#222" stroke-width="0.7"/>
<text x="187.4" y="304.6" font-size="8.3" text-anchor="end" font-weight="normal" fill="#111">60</text>
<path d="M187.8,302.50 H189.5" stroke="#222" stroke-width="0.7"/>
<text x="187.4" y="291.1" font-size="8.3" text-anchor="end" font-weight="normal" fill="#111">80</text>
<path d="M187.8,289.00 H189.5" stroke="#222" stroke-width="0.7"/>
<text x="187.4" y="277.6" font-size="8.3" text-anchor="end" font-weight="normal" fill="#111">100</text>
<path d="M187.8,275.50 H189.5" stroke="#222" stroke-width="0.7"/>
<text x="187.4" y="264.1" font-size="8.3" text-anchor="end" font-weight="normal" fill="#111">120</text>
<path d="M187.8,262.00 H189.5" stroke="#222" stroke-width="0.7"/>
<text transform="translate(171.39999999999998 302.9) rotate(-90) scale(1.06 1)" font-size="9.3" text-anchor="middle" font-weight="normal" fill="#111">Percent of control</text>
<path d="M189.50,268.75 C193.21,268.83 205.29,267.79 211.75,269.25 C218.21,270.71 222.79,271.42 228.25,277.50 C233.71,283.58 238.17,295.96 244.50,305.75 C250.83,315.54 259.92,330.54 266.25,336.25 C272.58,341.96 277.00,339.17 282.50,340.00 C288.00,340.83 296.46,341.04 299.25,341.25" fill="none" stroke="#000" stroke-width="1.9" stroke-linejoin="round"/>
<rect x="187.45" y="266.70" width="4.10" height="4.10" fill="#000"/>
<rect x="209.70" y="267.20" width="4.10" height="4.10" fill="#000"/>
<rect x="226.20" y="275.45" width="4.10" height="4.10" fill="#000"/>
<rect x="242.45" y="303.70" width="4.10" height="4.10" fill="#000"/>
<rect x="264.20" y="334.20" width="4.10" height="4.10" fill="#000"/>
<rect x="280.45" y="337.95" width="4.10" height="4.10" fill="#000"/>
<rect x="297.20" y="339.20" width="4.10" height="4.10" fill="#000"/>
<path d="M189.50,267.50 C193.21,267.50 205.29,266.67 211.75,267.50 C218.21,268.33 222.79,266.38 228.25,272.50 C233.71,278.62 238.17,293.83 244.50,304.25 C250.83,314.67 259.92,329.12 266.25,335.00 C272.58,340.88 277.00,338.54 282.50,339.50 C288.00,340.46 296.46,340.54 299.25,340.75" fill="none" stroke="#767676" stroke-width="1.6" stroke-linejoin="round"/>
<circle cx="189.50" cy="267.50" r="2.00" fill="#b4b4b4" stroke="#3c3c3c" stroke-width="0.9"/>
<circle cx="211.75" cy="267.50" r="2.00" fill="#b4b4b4" stroke="#3c3c3c" stroke-width="0.9"/>
<circle cx="228.25" cy="272.50" r="2.00" fill="#b4b4b4" stroke="#3c3c3c" stroke-width="0.9"/>
<circle cx="244.50" cy="304.25" r="2.00" fill="#b4b4b4" stroke="#3c3c3c" stroke-width="0.9"/>
<circle cx="266.25" cy="335.00" r="2.00" fill="#b4b4b4" stroke="#3c3c3c" stroke-width="0.9"/>
<circle cx="282.50" cy="339.50" r="2.00" fill="#b4b4b4" stroke="#3c3c3c" stroke-width="0.9"/>
<circle cx="299.25" cy="340.75" r="2.00" fill="#b4b4b4" stroke="#3c3c3c" stroke-width="0.9"/>
<path d="M189.50,272.00 C193.21,272.08 205.29,270.96 211.75,272.50 C218.21,274.04 222.79,273.96 228.25,281.25 C233.71,288.54 238.17,306.46 244.50,316.25 C250.83,326.04 259.92,335.83 266.25,340.00 C272.58,344.17 277.00,340.92 282.50,341.25 C288.00,341.58 296.46,341.88 299.25,342.00" fill="none" stroke="#767676" stroke-width="1.6" stroke-linejoin="round"/>
<path d="M211.75,269.50 V275.50 M210.05,269.50 h3.4 M210.05,275.50 h3.4" stroke="#555" stroke-width="0.8" fill="none"/>
<path d="M228.25,278.75 V283.75 M226.55,278.75 h3.4 M226.55,283.75 h3.4" stroke="#555" stroke-width="0.8" fill="none"/>
<path d="M244.50,313.25 V319.25 M242.80,313.25 h3.4 M242.80,319.25 h3.4" stroke="#555" stroke-width="0.8" fill="none"/>
<path d="M189.50,269.70 L191.80,273.84 L187.20,273.84 Z" fill="#d2d2d2" stroke="#3c3c3c" stroke-width="0.9"/>
<path d="M211.75,270.20 L214.05,274.34 L209.45,274.34 Z" fill="#d2d2d2" stroke="#3c3c3c" stroke-width="0.9"/>
<path d="M228.25,278.95 L230.55,283.09 L225.95,283.09 Z" fill="#d2d2d2" stroke="#3c3c3c" stroke-width="0.9"/>
<path d="M244.50,313.95 L246.80,318.09 L242.20,318.09 Z" fill="#d2d2d2" stroke="#3c3c3c" stroke-width="0.9"/>
<path d="M266.25,337.70 L268.55,341.84 L263.95,341.84 Z" fill="#d2d2d2" stroke="#3c3c3c" stroke-width="0.9"/>
<path d="M282.50,338.95 L284.80,343.09 L280.20,343.09 Z" fill="#d2d2d2" stroke="#3c3c3c" stroke-width="0.9"/>
<path d="M299.25,339.70 L301.55,343.84 L296.95,343.84 Z" fill="#d2d2d2" stroke="#3c3c3c" stroke-width="0.9"/>
<path d="M189.5,261 V343 H300.25" fill="none" stroke="#1c1c1c" stroke-width="1.05"/>
<text x="189.8" y="355.2" font-size="8.2" text-anchor="start" font-weight="normal" fill="#111">0.01</text>
<text x="246.3" y="355.2" font-size="8.2" text-anchor="middle" font-weight="normal" fill="#111">0.1</text>
<text x="300.3" y="355.2" font-size="8.2" text-anchor="middle" font-weight="normal" fill="#111">1</text>
<text x="244" y="367.6" font-size="8.45" text-anchor="middle" font-weight="normal" fill="#111">CHK1i concentration (µmol/L)</text>
<path d="M244.60000000000002,265.7 H264.2" stroke="#000" stroke-width="3.2" stroke-linecap="round"/>
<rect x="251.43" y="262.83" width="5.74" height="5.74" fill="#000"/>
<text x="271.5" y="268.6" font-size="8.8" text-anchor="start" font-weight="normal" fill="#111">siNT</text>
<path d="M244.4,277.8 H264.40000000000003" stroke="#939393" stroke-width="2.9" stroke-linecap="round"/>
<circle cx="254.30" cy="277.80" r="2.80" fill="#8e8e8e" stroke="#151515" stroke-width="1.15"/>
<text x="271.5" y="281" font-size="8.8" text-anchor="start" font-weight="normal" fill="#111">siXPC-2</text>
<path d="M244.4,290.4 H264.40000000000003" stroke="#939393" stroke-width="2.9" stroke-linecap="round"/>
<path d="M254.30,287.18 L257.52,292.98 L251.08,292.98 Z" fill="#e6e6e6" stroke="#151515" stroke-width="1.15"/>
<text x="271.5" y="292.6" font-size="8.8" text-anchor="start" font-weight="normal" fill="#111">siXPC-3</text>
<text x="39.3" y="462.6" font-size="8.3" text-anchor="end" font-weight="normal" fill="#111">0</text>
<path d="M40.8,460.50 H42.5" stroke="#222" stroke-width="0.7"/>
<text x="39.3" y="450.9142857142857" font-size="8.3" text-anchor="end" font-weight="normal" fill="#111">20</text>
<path d="M40.8,448.81 H42.5" stroke="#222" stroke-width="0.7"/>
<text x="39.3" y="439.22857142857146" font-size="8.3" text-anchor="end" font-weight="normal" fill="#111">40</text>
<path d="M40.8,437.13 H42.5" stroke="#222" stroke-width="0.7"/>
<text x="39.3" y="427.54285714285714" font-size="8.3" text-anchor="end" font-weight="normal" fill="#111">60</text>
<path d="M40.8,425.44 H42.5" stroke="#222" stroke-width="0.7"/>
<text x="39.3" y="415.8571428571429" font-size="8.3" text-anchor="end" font-weight="normal" fill="#111">80</text>
<path d="M40.8,413.76 H42.5" stroke="#222" stroke-width="0.7"/>
<text x="39.3" y="404.1714285714286" font-size="8.3" text-anchor="end" font-weight="normal" fill="#111">100</text>
<path d="M40.8,402.07 H42.5" stroke="#222" stroke-width="0.7"/>
<text x="39.3" y="392.48571428571427" font-size="8.3" text-anchor="end" font-weight="normal" fill="#111">120</text>
<path d="M40.8,390.39 H42.5" stroke="#222" stroke-width="0.7"/>
<text x="39.3" y="380.8" font-size="8.3" text-anchor="end" font-weight="normal" fill="#111">140</text>
<path d="M40.8,378.70 H42.5" stroke="#222" stroke-width="0.7"/>
<text transform="translate(20.7 420.0) rotate(-90) scale(1.06 1)" font-size="9.3" text-anchor="middle" font-weight="normal" fill="#111">Percent of control</text>
<path d="M42.50,397.00 C46.17,396.58 58.12,394.62 64.50,394.50 C70.88,394.38 75.33,396.38 80.75,396.25 C86.17,396.12 90.67,392.08 97.00,393.75 C103.33,395.42 112.42,400.62 118.75,406.25 C125.08,411.88 129.54,420.00 135.00,427.50 C140.46,435.00 148.75,447.29 151.50,451.25" fill="none" stroke="#000" stroke-width="1.9" stroke-linejoin="round"/>
<rect x="40.45" y="394.95" width="4.10" height="4.10" fill="#000"/>
<rect x="62.45" y="392.45" width="4.10" height="4.10" fill="#000"/>
<rect x="78.70" y="394.20" width="4.10" height="4.10" fill="#000"/>
<rect x="94.95" y="391.70" width="4.10" height="4.10" fill="#000"/>
<rect x="116.70" y="404.20" width="4.10" height="4.10" fill="#000"/>
<rect x="132.95" y="425.45" width="4.10" height="4.10" fill="#000"/>
<rect x="149.45" y="449.20" width="4.10" height="4.10" fill="#000"/>
<path d="M42.50,397.50 C46.17,397.08 58.12,395.33 64.50,395.00 C70.88,394.67 75.33,395.17 80.75,395.50 C86.17,395.83 90.67,394.79 97.00,397.00 C103.33,399.21 112.42,403.25 118.75,408.75 C125.08,414.25 129.54,423.33 135.00,430.00 C140.46,436.67 148.75,445.62 151.50,448.75" fill="none" stroke="#767676" stroke-width="1.6" stroke-linejoin="round"/>
<path d="M64.50,388.00 V402.00 M62.80,388.00 h3.4 M62.80,402.00 h3.4" stroke="#555" stroke-width="0.8" fill="none"/>
<path d="M80.75,390.00 V401.00 M79.05,390.00 h3.4 M79.05,401.00 h3.4" stroke="#555" stroke-width="0.8" fill="none"/>
<path d="M97.00,391.50 V402.50 M95.30,391.50 h3.4 M95.30,402.50 h3.4" stroke="#555" stroke-width="0.8" fill="none"/>
<path d="M151.50,446.25 V451.25 M149.80,446.25 h3.4 M149.80,451.25 h3.4" stroke="#555" stroke-width="0.8" fill="none"/>
<circle cx="42.50" cy="397.50" r="2.00" fill="#b4b4b4" stroke="#3c3c3c" stroke-width="0.9"/>
<circle cx="64.50" cy="395.00" r="2.00" fill="#b4b4b4" stroke="#3c3c3c" stroke-width="0.9"/>
<circle cx="80.75" cy="395.50" r="2.00" fill="#b4b4b4" stroke="#3c3c3c" stroke-width="0.9"/>
<circle cx="97.00" cy="397.00" r="2.00" fill="#b4b4b4" stroke="#3c3c3c" stroke-width="0.9"/>
<circle cx="118.75" cy="408.75" r="2.00" fill="#b4b4b4" stroke="#3c3c3c" stroke-width="0.9"/>
<circle cx="135.00" cy="430.00" r="2.00" fill="#b4b4b4" stroke="#3c3c3c" stroke-width="0.9"/>
<circle cx="151.50" cy="448.75" r="2.00" fill="#b4b4b4" stroke="#3c3c3c" stroke-width="0.9"/>
<path d="M42.50,401.25 C46.17,400.62 58.12,398.21 64.50,397.50 C70.88,396.79 75.33,396.79 80.75,397.00 C86.17,397.21 90.67,396.58 97.00,398.75 C103.33,400.92 112.42,404.79 118.75,410.00 C125.08,415.21 129.54,423.12 135.00,430.00 C140.46,436.88 148.75,447.71 151.50,451.25" fill="none" stroke="#767676" stroke-width="1.6" stroke-linejoin="round"/>
<path d="M64.50,393.50 V401.50 M62.80,393.50 h3.4 M62.80,401.50 h3.4" stroke="#555" stroke-width="0.8" fill="none"/>
<path d="M80.75,393.00 V401.00 M79.05,393.00 h3.4 M79.05,401.00 h3.4" stroke="#555" stroke-width="0.8" fill="none"/>
<path d="M97.00,393.75 V403.75 M95.30,393.75 h3.4 M95.30,403.75 h3.4" stroke="#555" stroke-width="0.8" fill="none"/>
<path d="M118.75,405.00 V415.00 M117.05,405.00 h3.4 M117.05,415.00 h3.4" stroke="#555" stroke-width="0.8" fill="none"/>
<path d="M151.50,448.25 V454.25 M149.80,448.25 h3.4 M149.80,454.25 h3.4" stroke="#555" stroke-width="0.8" fill="none"/>
<path d="M42.50,398.95 L44.80,403.09 L40.20,403.09 Z" fill="#d2d2d2" stroke="#3c3c3c" stroke-width="0.9"/>
<path d="M64.50,395.20 L66.80,399.34 L62.20,399.34 Z" fill="#d2d2d2" stroke="#3c3c3c" stroke-width="0.9"/>
<path d="M80.75,394.70 L83.05,398.84 L78.45,398.84 Z" fill="#d2d2d2" stroke="#3c3c3c" stroke-width="0.9"/>
<path d="M97.00,396.45 L99.30,400.59 L94.70,400.59 Z" fill="#d2d2d2" stroke="#3c3c3c" stroke-width="0.9"/>
<path d="M118.75,407.70 L121.05,411.84 L116.45,411.84 Z" fill="#d2d2d2" stroke="#3c3c3c" stroke-width="0.9"/>
<path d="M135.00,427.70 L137.30,431.84 L132.70,431.84 Z" fill="#d2d2d2" stroke="#3c3c3c" stroke-width="0.9"/>
<path d="M151.50,448.95 L153.80,453.09 L149.20,453.09 Z" fill="#d2d2d2" stroke="#3c3c3c" stroke-width="0.9"/>
<path d="M42.5,377.7 V460.5 H152.5" fill="none" stroke="#1c1c1c" stroke-width="1.05"/>
<text x="40.5" y="471.8" font-size="8.2" text-anchor="start" font-weight="normal" fill="#111">0.1</text>
<text x="97" y="471.8" font-size="8.2" text-anchor="middle" font-weight="normal" fill="#111">1</text>
<text x="151.2" y="471.8" font-size="8.2" text-anchor="middle" font-weight="normal" fill="#111">10</text>
<text x="94.5" y="484.3" font-size="8.45" text-anchor="middle" font-weight="normal" fill="#111">ATRi concentration (µmol/L)</text>
<text x="187.4" y="462.6" font-size="8.3" text-anchor="end" font-weight="normal" fill="#111">0</text>
<path d="M187.8,460.50 H189.5" stroke="#222" stroke-width="0.7"/>
<text x="187.4" y="450.9142857142857" font-size="8.3" text-anchor="end" font-weight="normal" fill="#111">20</text>
<path d="M187.8,448.81 H189.5" stroke="#222" stroke-width="0.7"/>
<text x="187.4" y="439.22857142857146" font-size="8.3" text-anchor="end" font-weight="normal" fill="#111">40</text>
<path d="M187.8,437.13 H189.5" stroke="#222" stroke-width="0.7"/>
<text x="187.4" y="427.54285714285714" font-size="8.3" text-anchor="end" font-weight="normal" fill="#111">60</text>
<path d="M187.8,425.44 H189.5" stroke="#222" stroke-width="0.7"/>
<text x="187.4" y="415.8571428571429" font-size="8.3" text-anchor="end" font-weight="normal" fill="#111">80</text>
<path d="M187.8,413.76 H189.5" stroke="#222" stroke-width="0.7"/>
<text x="187.4" y="404.1714285714286" font-size="8.3" text-anchor="end" font-weight="normal" fill="#111">100</text>
<path d="M187.8,402.07 H189.5" stroke="#222" stroke-width="0.7"/>
<text x="187.4" y="392.48571428571427" font-size="8.3" text-anchor="end" font-weight="normal" fill="#111">120</text>
<path d="M187.8,390.39 H189.5" stroke="#222" stroke-width="0.7"/>
<text x="187.4" y="380.8" font-size="8.3" text-anchor="end" font-weight="normal" fill="#111">140</text>
<path d="M187.8,378.70 H189.5" stroke="#222" stroke-width="0.7"/>
<text transform="translate(171.39999999999998 420.0) rotate(-90) scale(1.06 1)" font-size="9.3" text-anchor="middle" font-weight="normal" fill="#111">Percent of control</text>
<path d="M189.50,397.50 C193.21,397.50 205.29,395.96 211.75,397.50 C218.21,399.04 222.79,400.83 228.25,406.75 C233.71,412.67 238.17,425.38 244.50,433.00 C250.83,440.62 259.92,448.92 266.25,452.50 C272.58,456.08 277.00,453.88 282.50,454.50 C288.00,455.12 296.46,455.96 299.25,456.25" fill="none" stroke="#000" stroke-width="1.9" stroke-linejoin="round"/>
<path d="M211.75,395.00 V400.00 M210.05,395.00 h3.4 M210.05,400.00 h3.4" stroke="#222" stroke-width="0.8" fill="none"/>
<path d="M228.25,403.25 V410.25 M226.55,403.25 h3.4 M226.55,410.25 h3.4" stroke="#222" stroke-width="0.8" fill="none"/>
<path d="M244.50,427.00 V439.00 M242.80,427.00 h3.4 M242.80,439.00 h3.4" stroke="#222" stroke-width="0.8" fill="none"/>
<rect x="187.45" y="395.45" width="4.10" height="4.10" fill="#000"/>
<rect x="209.70" y="395.45" width="4.10" height="4.10" fill="#000"/>
<rect x="226.20" y="404.70" width="4.10" height="4.10" fill="#000"/>
<rect x="242.45" y="430.95" width="4.10" height="4.10" fill="#000"/>
<rect x="264.20" y="450.45" width="4.10" height="4.10" fill="#000"/>
<rect x="280.45" y="452.45" width="4.10" height="4.10" fill="#000"/>
<rect x="297.20" y="454.20" width="4.10" height="4.10" fill="#000"/>
<path d="M189.50,392.00 C193.21,391.25 205.29,386.58 211.75,387.50 C218.21,388.42 222.79,390.92 228.25,397.50 C233.71,404.08 238.17,418.04 244.50,427.00 C250.83,435.96 259.92,446.79 266.25,451.25 C272.58,455.71 277.00,453.04 282.50,453.75 C288.00,454.46 296.46,455.21 299.25,455.50" fill="none" stroke="#767676" stroke-width="1.6" stroke-linejoin="round"/>
<path d="M228.25,394.50 V400.50 M226.55,394.50 h3.4 M226.55,400.50 h3.4" stroke="#555" stroke-width="0.8" fill="none"/>
<path d="M244.50,424.00 V430.00 M242.80,424.00 h3.4 M242.80,430.00 h3.4" stroke="#555" stroke-width="0.8" fill="none"/>
<circle cx="189.50" cy="392.00" r="2.00" fill="#b4b4b4" stroke="#3c3c3c" stroke-width="0.9"/>
<circle cx="211.75" cy="387.50" r="2.00" fill="#b4b4b4" stroke="#3c3c3c" stroke-width="0.9"/>
<circle cx="228.25" cy="397.50" r="2.00" fill="#b4b4b4" stroke="#3c3c3c" stroke-width="0.9"/>
<circle cx="244.50" cy="427.00" r="2.00" fill="#b4b4b4" stroke="#3c3c3c" stroke-width="0.9"/>
<circle cx="266.25" cy="451.25" r="2.00" fill="#b4b4b4" stroke="#3c3c3c" stroke-width="0.9"/>
<circle cx="282.50" cy="453.75" r="2.00" fill="#b4b4b4" stroke="#3c3c3c" stroke-width="0.9"/>
<circle cx="299.25" cy="455.50" r="2.00" fill="#b4b4b4" stroke="#3c3c3c" stroke-width="0.9"/>
<path d="M189.50,395.00 C193.21,394.92 205.29,393.46 211.75,394.50 C218.21,395.54 222.79,395.54 228.25,401.25 C233.71,406.96 238.17,420.71 244.50,428.75 C250.83,436.79 259.92,445.33 266.25,449.50 C272.58,453.67 277.00,452.42 282.50,453.75 C288.00,455.08 296.46,456.88 299.25,457.50" fill="none" stroke="#767676" stroke-width="1.6" stroke-linejoin="round"/>
<path d="M299.25,455.00 V460.00 M297.55,455.00 h3.4 M297.55,460.00 h3.4" stroke="#555" stroke-width="0.8" fill="none"/>
<path d="M189.50,392.70 L191.80,396.84 L187.20,396.84 Z" fill="#d2d2d2" stroke="#3c3c3c" stroke-width="0.9"/>
<path d="M211.75,392.20 L214.05,396.34 L209.45,396.34 Z" fill="#d2d2d2" stroke="#3c3c3c" stroke-width="0.9"/>
<path d="M228.25,398.95 L230.55,403.09 L225.95,403.09 Z" fill="#d2d2d2" stroke="#3c3c3c" stroke-width="0.9"/>
<path d="M244.50,426.45 L246.80,430.59 L242.20,430.59 Z" fill="#d2d2d2" stroke="#3c3c3c" stroke-width="0.9"/>
<path d="M266.25,447.20 L268.55,451.34 L263.95,451.34 Z" fill="#d2d2d2" stroke="#3c3c3c" stroke-width="0.9"/>
<path d="M282.50,451.45 L284.80,455.59 L280.20,455.59 Z" fill="#d2d2d2" stroke="#3c3c3c" stroke-width="0.9"/>
<path d="M299.25,455.20 L301.55,459.34 L296.95,459.34 Z" fill="#d2d2d2" stroke="#3c3c3c" stroke-width="0.9"/>
<path d="M189.5,377.7 V460.5 H300.25" fill="none" stroke="#1c1c1c" stroke-width="1.05"/>
<text x="189.8" y="471.8" font-size="8.2" text-anchor="start" font-weight="normal" fill="#111">0.01</text>
<text x="246.3" y="471.8" font-size="8.2" text-anchor="middle" font-weight="normal" fill="#111">0.1</text>
<text x="300.3" y="471.8" font-size="8.2" text-anchor="middle" font-weight="normal" fill="#111">1</text>
<text x="245.6" y="485.0" font-size="8.45" text-anchor="middle" font-weight="normal" fill="#111">CHK1i concentration (µmol/L)</text>
<path d="M244.60000000000002,383.2 H264.2" stroke="#000" stroke-width="3.2" stroke-linecap="round"/>
<rect x="251.43" y="380.33" width="5.74" height="5.74" fill="#000"/>
<text x="271.5" y="385.9" font-size="8.8" text-anchor="start" font-weight="normal" fill="#111">siNT</text>
<path d="M244.4,395.4 H264.40000000000003" stroke="#939393" stroke-width="2.9" stroke-linecap="round"/>
<circle cx="254.30" cy="395.40" r="2.80" fill="#8e8e8e" stroke="#151515" stroke-width="1.15"/>
<text x="271.5" y="398.4" font-size="8.8" text-anchor="start" font-weight="normal" fill="#111">siXPA-1</text>
<path d="M244.4,407.5 H264.40000000000003" stroke="#939393" stroke-width="2.9" stroke-linecap="round"/>
<path d="M254.30,404.28 L257.52,410.08 L251.08,410.08 Z" fill="#e6e6e6" stroke="#151515" stroke-width="1.15"/>
<text x="271.5" y="410.2" font-size="8.8" text-anchor="start" font-weight="normal" fill="#111">siXPA-2</text>
<rect x="46.1" y="434.1" width="57.5" height="11.1" fill="#e2e2e2" stroke="#0c0c0c" stroke-width="1.2"/>
<rect x="46.1" y="447.3" width="57.5" height="11.3" fill="#dadada" stroke="#0c0c0c" stroke-width="1.2"/>
<path d="M49,439 C52,438.4 56,439.8 60,439.6" fill="none" stroke="#0e0e0e" stroke-width="3.6" stroke-linecap="round" opacity="1" filter="url(#b1)"/>
<path d="M49,440.4 L57,440.8" fill="none" stroke="#1a1a1a" stroke-width="2.2" stroke-linecap="round" opacity="1" filter="url(#b1)"/>
<path d="M60,439.8 L65.4,440" fill="none" stroke="#5a5a5a" stroke-width="2.2" stroke-linecap="round" opacity="0.9" filter="url(#b1)"/>
<path d="M47.6,452 C54,451.6 60,453.8 68,453.8 S88,453.6 102.2,453.2" fill="none" stroke="#070707" stroke-width="3.2" stroke-linecap="round" opacity="1" filter="url(#b1)"/>
<path d="M47.6,452.8 L58,453.4" fill="none" stroke="#070707" stroke-width="2.6" stroke-linecap="round" opacity="1" filter="url(#b1)"/>
<text x="57" y="430.6" font-size="9" text-anchor="middle" font-weight="normal" fill="#111">NT</text>
<text x="75.2" y="430.6" font-size="9" text-anchor="middle" font-weight="normal" fill="#111">A-1</text>
<text x="94.3" y="430.6" font-size="9" text-anchor="middle" font-weight="normal" fill="#111">A-2</text>
<text x="106.3" y="443.2" font-size="9" text-anchor="start" font-weight="normal" fill="#111">XPA</text>
<text x="106.3" y="456.3" font-size="9" text-anchor="start" font-weight="normal" fill="#111">GAPDH</text>
<text transform="translate(351.0 119.2) scale(0.96 1)" font-size="8.5" text-anchor="end" font-weight="normal" fill="#111">0</text>
<path d="M351.29999999999995,117.50 H352.9" stroke="#000" stroke-width="0.7"/>
<text transform="translate(351.0 106.51666666666668) scale(0.96 1)" font-size="8.5" text-anchor="end" font-weight="normal" fill="#111">20</text>
<path d="M351.29999999999995,103.62 H352.9" stroke="#000" stroke-width="0.7"/>
<text transform="translate(351.0 92.63333333333334) scale(0.96 1)" font-size="8.5" text-anchor="end" font-weight="normal" fill="#111">40</text>
<path d="M351.29999999999995,89.73 H352.9" stroke="#000" stroke-width="0.7"/>
<text transform="translate(351.0 78.75) scale(0.96 1)" font-size="8.5" text-anchor="end" font-weight="normal" fill="#111">60</text>
<path d="M351.29999999999995,75.85 H352.9" stroke="#000" stroke-width="0.7"/>
<text transform="translate(351.0 64.86666666666667) scale(0.96 1)" font-size="8.5" text-anchor="end" font-weight="normal" fill="#111">80</text>
<path d="M351.29999999999995,61.97 H352.9" stroke="#000" stroke-width="0.7"/>
<text transform="translate(351.0 50.98333333333333) scale(0.96 1)" font-size="8.5" text-anchor="end" font-weight="normal" fill="#111">100</text>
<path d="M351.29999999999995,48.08 H352.9" stroke="#000" stroke-width="0.7"/>
<text transform="translate(351.0 37.1) scale(0.96 1)" font-size="8.5" text-anchor="end" font-weight="normal" fill="#111">120</text>
<path d="M351.29999999999995,34.20 H352.9" stroke="#000" stroke-width="0.7"/>
<text transform="translate(334.7 72.55) rotate(-90) scale(1.07 1)" font-size="9.2" text-anchor="middle" font-weight="normal" fill="#111">Percent of control</text>
<path d="M359.87,48.10 V41.60 M358.77,41.60 h2.2" stroke="#555" stroke-width="0.8" fill="none"/>
<rect x="356.90" y="48.10" width="5.94" height="69.40" fill="#000"/>
<path d="M365.81,107.00 V105.00 M364.71,105.00 h2.2" stroke="#555" stroke-width="0.8" fill="none"/>
<rect x="363.14" y="107.30" width="5.34" height="10.20" fill="#555" stroke="#444" stroke-width="0.6"/>
<text x="365.81" y="106.2" font-size="6.6" text-anchor="middle" font-weight="bold" fill="#000">*</text>
<path d="M371.75,93.25 V89.75 M370.65,89.75 h2.2" stroke="#555" stroke-width="0.8" fill="none"/>
<rect x="369.08" y="93.55" width="5.34" height="23.95" fill="#999" stroke="#777" stroke-width="0.6"/>
<text x="371.75" y="90.2" font-size="6.6" text-anchor="middle" font-weight="bold" fill="#000">*</text>
<path d="M377.69,44.90 V35.40 M376.59,35.40 h2.2" stroke="#555" stroke-width="0.8" fill="none"/>
<rect x="375.02" y="45.20" width="5.34" height="72.30" fill="#cacaca" stroke="#999" stroke-width="0.6"/>
<path d="M383.63,51.40 V37.20 M382.53,37.20 h2.2" stroke="#555" stroke-width="0.8" fill="none"/>
<rect x="380.96" y="51.70" width="5.34" height="65.80" fill="#fff" stroke="#666" stroke-width="0.6"/>
<path d="M397.57,46.80 V42.60 M396.47,42.60 h2.2" stroke="#555" stroke-width="0.8" fill="none"/>
<rect x="394.60" y="46.80" width="5.94" height="70.70" fill="#000"/>
<path d="M403.51,110.00 V106.20 M402.41,106.20 h2.2" stroke="#555" stroke-width="0.8" fill="none"/>
<rect x="400.84" y="110.30" width="5.34" height="7.20" fill="#555" stroke="#444" stroke-width="0.6"/>
<text x="403.51000000000005" y="106.1" font-size="6.6" text-anchor="middle" font-weight="bold" fill="#000">*</text>
<path d="M409.45,101.25 V99.05 M408.35,99.05 h2.2" stroke="#555" stroke-width="0.8" fill="none"/>
<rect x="406.78" y="101.55" width="5.34" height="15.95" fill="#999" stroke="#777" stroke-width="0.6"/>
<text x="409.45000000000005" y="99.8" font-size="6.6" text-anchor="middle" font-weight="bold" fill="#000">*</text>
<path d="M415.39,52.60 V42.60 M414.29,42.60 h2.2" stroke="#555" stroke-width="0.8" fill="none"/>
<rect x="412.72" y="52.90" width="5.34" height="64.60" fill="#cacaca" stroke="#999" stroke-width="0.6"/>
<path d="M421.33,54.50 V40.30 M420.23,40.30 h2.2" stroke="#555" stroke-width="0.8" fill="none"/>
<rect x="418.66" y="54.80" width="5.34" height="62.70" fill="#fff" stroke="#666" stroke-width="0.6"/>
<path d="M435.27,62.00 V58.30 M434.17,58.30 h2.2" stroke="#555" stroke-width="0.8" fill="none"/>
<rect x="432.30" y="62.00" width="5.94" height="55.50" fill="#000"/>
<path d="M441.21,106.90 V102.10 M440.11,102.10 h2.2" stroke="#555" stroke-width="0.8" fill="none"/>
<rect x="438.54" y="107.20" width="5.34" height="10.30" fill="#555" stroke="#444" stroke-width="0.6"/>
<text x="441.21000000000004" y="102.39999999999999" font-size="6.6" text-anchor="middle" font-weight="bold" fill="#000">*</text>
<path d="M447.15,112.90 V110.60 M446.05,110.60 h2.2" stroke="#555" stroke-width="0.8" fill="none"/>
<rect x="444.48" y="113.20" width="5.34" height="4.30" fill="#999" stroke="#777" stroke-width="0.6"/>
<text x="447.15000000000003" y="111.39999999999999" font-size="6.6" text-anchor="middle" font-weight="bold" fill="#000">*</text>
<path d="M453.09,88.20 V83.20 M451.99,83.20 h2.2" stroke="#555" stroke-width="0.8" fill="none"/>
<rect x="450.42" y="88.50" width="5.34" height="29.00" fill="#cacaca" stroke="#999" stroke-width="0.6"/>
<text x="453.09000000000003" y="83.2" font-size="6.6" text-anchor="middle" font-weight="bold" fill="#000">*</text>
<path d="M459.03,110.60 V109.60 M457.93,109.60 h2.2" stroke="#555" stroke-width="0.8" fill="none"/>
<rect x="456.36" y="110.90" width="5.34" height="6.60" fill="#fff" stroke="#666" stroke-width="0.6"/>
<text x="459.03000000000003" y="110.2" font-size="6.6" text-anchor="middle" font-weight="bold" fill="#000">*</text>
<path d="M352.9,33.2 V117.5 H466" fill="none" stroke="#1c1c1c" stroke-width="1.05"/>
<path d="M390.4,117.5 v1.8" stroke="#000" stroke-width="0.7"/>
<path d="M428.2,117.5 v1.8" stroke="#000" stroke-width="0.7"/>
<path d="M465.6,117.5 v1.8" stroke="#000" stroke-width="0.7"/>
<text x="372.1" y="127.8" font-size="9.3" text-anchor="middle" font-weight="normal" fill="#111">ATRi</text>
<text x="409" y="127.8" font-size="9.3" text-anchor="middle" font-weight="normal" fill="#111">CHK1i</text>
<text x="447.3" y="127.8" font-size="9.3" text-anchor="middle" font-weight="normal" fill="#111">Cis</text>
<rect x="443.7" y="18.2" width="10.2" height="8.4" fill="#000"/>
<text x="458" y="23.9" font-size="9" text-anchor="start" font-weight="normal" fill="#111">siNT</text>
<rect x="444.2" y="29.6" width="9.2" height="7.2" fill="#555" stroke="#2e2e2e" stroke-width="1"/>
<text x="458" y="34.7" font-size="9" text-anchor="start" font-weight="normal" fill="#111">siERCC1-1</text>
<rect x="444.2" y="40.6" width="9.2" height="7.2" fill="#999" stroke="#2e2e2e" stroke-width="1"/>
<text x="458" y="45.5" font-size="9" text-anchor="start" font-weight="normal" fill="#111">siXPF-2</text>
<rect x="444.2" y="52.5" width="9.2" height="7.2" fill="#cacaca" stroke="#2e2e2e" stroke-width="1"/>
<text x="458" y="57.3" font-size="9" text-anchor="start" font-weight="normal" fill="#111">siXPC-3</text>
<rect x="444.2" y="63.4" width="9.2" height="7.2" fill="#fff" stroke="#2e2e2e" stroke-width="1"/>
<text x="458" y="69.2" font-size="9" text-anchor="start" font-weight="normal" fill="#111">siXPA-2</text>
<rect x="343.9" y="180.3" width="115.5" height="16.6" fill="#e0e0e0" stroke="#1a1a1a" stroke-width="1.1"/>
<rect x="343.9" y="199.7" width="115.5" height="16.5" fill="#e4e4e4" stroke="#1a1a1a" stroke-width="1.1"/>
<rect x="343.9" y="218.5" width="115.5" height="16.6" fill="#e3e3e3" stroke="#1a1a1a" stroke-width="1.1"/>
<rect x="343.9" y="237.9" width="115.5" height="16.4" fill="#cdcdcd" stroke="#1a1a1a" stroke-width="1.1"/>
<text x="353" y="174" font-size="9" text-anchor="start" font-weight="normal" fill="#111" transform="rotate(-37 353 174)">siNT</text>
<text x="377" y="165.2" font-size="9" text-anchor="start" font-weight="normal" fill="#111" transform="rotate(-37 377 165.2)">siERCC1</text>
<text x="408" y="165" font-size="9" text-anchor="start" font-weight="normal" fill="#111" transform="rotate(-37 408 165)">siXPF</text>
<text x="437.5" y="165" font-size="9" text-anchor="start" font-weight="normal" fill="#111" transform="rotate(-37 437.5 165)">siXPC</text>
<path d="M369.6,167.4 H389.8" stroke="#000" stroke-width="1.2"/>
<path d="M399.6,167.4 H419.8" stroke="#000" stroke-width="1.2"/>
<path d="M429.6,167.4 H450.4" stroke="#000" stroke-width="1.2"/>
<text x="370.8" y="178.6" font-size="8.4" text-anchor="middle" font-weight="normal" fill="#111">1</text>
<text x="386.2" y="178.6" font-size="8.4" text-anchor="middle" font-weight="normal" fill="#111">2</text>
<text x="402.4" y="178.6" font-size="8.4" text-anchor="middle" font-weight="normal" fill="#111">2</text>
<text x="417.4" y="178.6" font-size="8.4" text-anchor="middle" font-weight="normal" fill="#111">3</text>
<text x="432.6" y="178.6" font-size="8.4" text-anchor="middle" font-weight="normal" fill="#111">2</text>
<text x="447.6" y="178.6" font-size="8.4" text-anchor="middle" font-weight="normal" fill="#111">3</text>
<text x="462.5" y="191.2" font-size="9" text-anchor="start" font-weight="normal" fill="#111">ERCC1</text>
<text x="462.5" y="210.6" font-size="9" text-anchor="start" font-weight="normal" fill="#111">XPF</text>
<text x="462.5" y="229.5" font-size="9" text-anchor="start" font-weight="normal" fill="#111">XPC</text>
<text x="462.5" y="248.7" font-size="9" text-anchor="start" font-weight="normal" fill="#111">GAPDH</text>
<rect x="344.6" y="192.4" width="114.2" height="3.8" fill="#d0d0d0" filter="url(#b2)"/>
<path d="M344.81,192.35 L361.63,193.31" fill="none" stroke="#c2c2c2" stroke-width="1.6" stroke-linecap="round" opacity="1" filter="url(#b1)"/>
<path d="M345.29,186.1 C349.62,186.1 352.02,187.06 354.9,188.02" fill="none" stroke="#0c0c0c" stroke-width="2.6" stroke-linecap="round" opacity="1" filter="url(#b1)"/>
<path d="M354.42,188.02 C358.03,188.98 360.43,189.7 364.04,190.18" fill="none" stroke="#444" stroke-width="1.6" stroke-linecap="round" opacity="1" filter="url(#b1)"/>
<path d="M364.04,190.42 L394.81,191.14" fill="none" stroke="#9a9a9a" stroke-width="1.1" stroke-linecap="round" opacity="1" filter="url(#b1)"/>
<path d="M394.81,190.9 L407.79,190.9" fill="none" stroke="#555" stroke-width="2.2" stroke-linecap="round" opacity="1" filter="url(#b1)"/>
<path d="M408.27,191.38 C412.12,192.11 416.92,191.87 422.93,190.9" fill="none" stroke="#5a5a5a" stroke-width="1.9" stroke-linecap="round" opacity="1" filter="url(#b1)"/>
<path d="M423.65,190.18 L431.83,189.46" fill="none" stroke="#0a0a0a" stroke-width="3.0" stroke-linecap="round" opacity="1" filter="url(#b1)"/>
<path d="M432.79,188.98 L441.44,188.26" fill="none" stroke="#050505" stroke-width="3.6" stroke-linecap="round" opacity="1" filter="url(#b1)"/>
<path d="M441.92,188.02 C446.97,188.02 451.78,187.06 457.31,186.58" fill="none" stroke="#0a0a0a" stroke-width="2.7" stroke-linecap="round" opacity="1" filter="url(#b1)"/>
<path d="M349.13,207.73 L358.27,207.73" fill="none" stroke="#262626" stroke-width="2.1" stroke-linecap="round" opacity="1" filter="url(#b1)"/>
<path d="M358.27,207.97 L366.92,207.97" fill="none" stroke="#5c5c5c" stroke-width="1.6" stroke-linecap="round" opacity="1" filter="url(#b1)"/>
<path d="M366.92,208.21 L388.08,208.45" fill="none" stroke="#bdbdbd" stroke-width="1.0" stroke-linecap="round" opacity="1" filter="url(#b1)"/>
<path d="M408.51,208.45 L421.73,208.21" fill="none" stroke="#b4b4b4" stroke-width="1.2" stroke-linecap="round" opacity="1" filter="url(#b1)"/>
<path d="M424.13,207.73 L437.36,207.73" fill="none" stroke="#060606" stroke-width="3.3" stroke-linecap="round" opacity="1" filter="url(#b1)"/>
<path d="M437.36,207.97 L452.98,207.73" fill="none" stroke="#101010" stroke-width="2.2" stroke-linecap="round" opacity="1" filter="url(#b1)"/>
<path d="M437.36,204.85 V210.13" stroke="#555" stroke-width="0.6" filter="url(#b1)"/>
<rect x="344.4" y="229.6" width="78" height="4.6" fill="#d4d4d4" filter="url(#b2)"/>
<path d="M347.69,227.94 L362.84,228.18" fill="none" stroke="#0a0a0a" stroke-width="2.6" stroke-linecap="round" opacity="1" filter="url(#b1)"/>
<path d="M362.84,228.18 L378.46,227.46" fill="none" stroke="#0e0e0e" stroke-width="2.6" stroke-linecap="round" opacity="1" filter="url(#b1)"/>
<path d="M379.66,227.94 L391.68,227.7" fill="none" stroke="#9c9c9c" stroke-width="1.7" stroke-linecap="round" opacity="1" filter="url(#b1)"/>
<path d="M394.81,227.22 L409.71,227.46" fill="none" stroke="#060606" stroke-width="3.1" stroke-linecap="round" opacity="1" filter="url(#b1)"/>
<path d="M409.71,227.7 L424.13,227.7" fill="none" stroke="#0a0a0a" stroke-width="2.7" stroke-linecap="round" opacity="1" filter="url(#b1)"/>
<path d="M440.96,226.5 L454.9,226.26" fill="none" stroke="#b0b0b0" stroke-width="1.3" stroke-linecap="round" opacity="1" filter="url(#b1)"/>
<path d="M362.84,223.13 V231.31" stroke="#999" stroke-width="0.45" opacity="0.7" filter="url(#b1)"/>
<path d="M378.46,223.13 V231.31" stroke="#999" stroke-width="0.45" opacity="0.7" filter="url(#b1)"/>
<path d="M409.71,223.13 V231.31" stroke="#999" stroke-width="0.45" opacity="0.7" filter="url(#b1)"/>
<path d="M350.1,244.77 C354.42,244.77 356.83,246.21 361.63,246.69 S371.25,247.17 376.06,247.89 S385.67,249.58 390.48,249.1 S400.1,247.89 406.11,248.13 S419.33,247.89 426.54,247.41 S438.56,246.21 443.37,245.25 S448.17,243.57 451.06,243.33" fill="none" stroke="#050505" stroke-width="3.3" stroke-linecap="round" opacity="1" filter="url(#b1)"/>
<text transform="translate(350.2 358.09999999999997) scale(1.0 1)" font-size="8.3" text-anchor="end" font-weight="normal" fill="#111">0</text>
<path d="M351.4,355.80 H353" stroke="#000" stroke-width="0.7"/>
<text transform="translate(350.2 344.9) scale(1.0 1)" font-size="8.3" text-anchor="end" font-weight="normal" fill="#111">20</text>
<path d="M351.4,342.00 H353" stroke="#000" stroke-width="0.7"/>
<text transform="translate(350.2 331.09999999999997) scale(1.0 1)" font-size="8.3" text-anchor="end" font-weight="normal" fill="#111">40</text>
<path d="M351.4,328.20 H353" stroke="#000" stroke-width="0.7"/>
<text transform="translate(350.2 317.29999999999995) scale(1.0 1)" font-size="8.3" text-anchor="end" font-weight="normal" fill="#111">60</text>
<path d="M351.4,314.40 H353" stroke="#000" stroke-width="0.7"/>
<text transform="translate(350.2 303.5) scale(1.0 1)" font-size="8.3" text-anchor="end" font-weight="normal" fill="#111">80</text>
<path d="M351.4,300.60 H353" stroke="#000" stroke-width="0.7"/>
<text transform="translate(350.2 289.7) scale(1.0 1)" font-size="8.3" text-anchor="end" font-weight="normal" fill="#111">100</text>
<path d="M351.4,286.80 H353" stroke="#000" stroke-width="0.7"/>
<text transform="translate(350.2 275.9) scale(1.0 1)" font-size="8.3" text-anchor="end" font-weight="normal" fill="#111">120</text>
<path d="M351.4,273.00 H353" stroke="#000" stroke-width="0.7"/>
<text transform="translate(333.3 313.79999999999995) rotate(-90) scale(1.07 1)" font-size="9.2" text-anchor="middle" font-weight="normal" fill="#111">Percent of control</text>
<path d="M363.25,320.40 V315.00 M362.15,315.00 h2.2" stroke="#555" stroke-width="0.8" fill="none"/>
<rect x="359.20" y="320.40" width="8.10" height="35.40" fill="#000"/>
<text x="363.25" y="314.6" font-size="6.6" text-anchor="middle" font-weight="bold" fill="#000">*</text>
<path d="M371.35,288.10 V284.50 M370.25,284.50 h2.2" stroke="#555" stroke-width="0.8" fill="none"/>
<rect x="367.60" y="288.40" width="7.50" height="67.40" fill="#9a9a9a" stroke="#6e6e6e" stroke-width="0.6"/>
<path d="M391.05,318.80 V317.20 M389.95,317.20 h2.2" stroke="#555" stroke-width="0.8" fill="none"/>
<rect x="387.00" y="318.80" width="8.10" height="37.00" fill="#000"/>
<text x="391.05" y="317.8" font-size="6.6" text-anchor="middle" font-weight="bold" fill="#000">*</text>
<path d="M399.15,286.10 V285.10 M398.05,285.10 h2.2" stroke="#555" stroke-width="0.8" fill="none"/>
<rect x="395.40" y="286.40" width="7.50" height="69.40" fill="#9a9a9a" stroke="#6e6e6e" stroke-width="0.6"/>
<path d="M418.65,321.10 V317.80 M417.55,317.80 h2.2" stroke="#555" stroke-width="0.8" fill="none"/>
<rect x="414.60" y="321.10" width="8.10" height="34.70" fill="#000"/>
<text x="418.65000000000003" y="317.8" font-size="6.6" text-anchor="middle" font-weight="bold" fill="#000">*</text>
<path d="M426.75,290.50 V287.20 M425.65,287.20 h2.2" stroke="#555" stroke-width="0.8" fill="none"/>
<rect x="423.00" y="290.80" width="7.50" height="65.00" fill="#9a9a9a" stroke="#6e6e6e" stroke-width="0.6"/>
<path d="M353,272 V355.8 H433" fill="none" stroke="#1c1c1c" stroke-width="1.05"/>
<text x="367.1" y="364.1" font-size="9.1" text-anchor="middle" font-weight="normal" fill="#111">ATRi</text>
<text x="396" y="364.1" font-size="9.1" text-anchor="middle" font-weight="normal" fill="#111">CHK1i</text>
<text x="423.6" y="364.1" font-size="9.1" text-anchor="middle" font-weight="normal" fill="#111">Cis</text>
<rect x="435" y="269.6" width="10" height="8.2" fill="#000"/>
<rect x="435.5" y="280.5" width="9" height="7" fill="#9a9a9a" stroke="#222" stroke-width="1.1"/>
<text x="449.5" y="276.6" font-size="9" text-anchor="start" font-weight="normal" fill="#111">XP</text>
<text x="449.5" y="286.9" font-size="9" text-anchor="start" font-weight="normal" fill="#111">+XPF</text>
<rect x="436.4" y="335.8" width="34.9" height="3.6" fill="#8c8c8c"/>
<rect x="436.4" y="311.7" width="34.9" height="11.4" fill="#eeeeee" stroke="#1a1a1a" stroke-width="1.0"/>
<rect x="436.4" y="325.3" width="34.9" height="11.1" fill="#ebebeb" stroke="#1a1a1a" stroke-width="1.0"/>
<rect x="436.4" y="339.2" width="34.9" height="11.3" fill="#f0f0f0" stroke="#1a1a1a" stroke-width="1.0"/>
<path d="M454.2,317.4 C458,318.6 463,318.4 467.6,317.2" fill="none" stroke="#060606" stroke-width="3.0" stroke-linecap="round" opacity="1" filter="url(#b1)"/>
<path d="M454.4,316.2 V318.8" fill="none" stroke="#0a0a0a" stroke-width="2.2" stroke-linecap="round" opacity="1" filter="url(#b1)"/>
<path d="M468,315.4 V319.4" fill="none" stroke="#0a0a0a" stroke-width="1.8" stroke-linecap="round" opacity="1" filter="url(#b1)"/>
<path d="M440,330.6 L452,330.8" fill="none" stroke="#c4c4c4" stroke-width="0.9" stroke-linecap="round" opacity="1" filter="url(#b1)"/>
<path d="M454,330.6 C458,330.8 462,330 467,329.4" fill="none" stroke="#101010" stroke-width="1.7" stroke-linecap="round" opacity="1" filter="url(#b1)"/>
<path d="M438.6,344.5 C444,343.9 448,344.9 452,344.5 S462,343.7 468.4,344.7" fill="none" stroke="#080808" stroke-width="2.3" stroke-linecap="round" opacity="1" filter="url(#b1)"/>
<text x="442.5" y="309.3" font-size="9.2" text-anchor="start" font-weight="normal" fill="#111" transform="rotate(-37 442.5 309.3)">XP</text>
<text x="461" y="309" font-size="9.2" text-anchor="start" font-weight="normal" fill="#111" transform="rotate(-37 461 309)">+XPF</text>
<text x="473.8" y="320.4" font-size="9" text-anchor="start" font-weight="normal" fill="#111">XPF</text>
<text x="473.8" y="333.9" font-size="9" text-anchor="start" font-weight="normal" fill="#111">ERCC1</text>
<text x="473.8" y="348" font-size="9" text-anchor="start" font-weight="normal" fill="#111">GAPDH</text>
<text transform="translate(350.2 471.59999999999997) scale(1.0 1)" font-size="8.3" text-anchor="end" font-weight="normal" fill="#111">0</text>
<path d="M351.4,468.70 H353" stroke="#000" stroke-width="0.7"/>
<text transform="translate(350.2 455.14) scale(1.0 1)" font-size="8.3" text-anchor="end" font-weight="normal" fill="#111">20</text>
<path d="M351.4,452.24 H353" stroke="#000" stroke-width="0.7"/>
<text transform="translate(350.2 438.67999999999995) scale(1.0 1)" font-size="8.3" text-anchor="end" font-weight="normal" fill="#111">40</text>
<path d="M351.4,435.78 H353" stroke="#000" stroke-width="0.7"/>
<text transform="translate(350.2 422.21999999999997) scale(1.0 1)" font-size="8.3" text-anchor="end" font-weight="normal" fill="#111">60</text>
<path d="M351.4,419.32 H353" stroke="#000" stroke-width="0.7"/>
<text transform="translate(350.2 405.76) scale(1.0 1)" font-size="8.3" text-anchor="end" font-weight="normal" fill="#111">80</text>
<path d="M351.4,402.86 H353" stroke="#000" stroke-width="0.7"/>
<text transform="translate(350.2 389.29999999999995) scale(1.0 1)" font-size="8.3" text-anchor="end" font-weight="normal" fill="#111">100</text>
<path d="M351.4,386.40 H353" stroke="#000" stroke-width="0.7"/>
<text transform="translate(333.3 428.15) rotate(-90) scale(1.07 1)" font-size="9.2" text-anchor="middle" font-weight="normal" fill="#111">Percent of control</text>
<path d="M363.25,459.50 V456.50 M362.15,456.50 h2.2" stroke="#555" stroke-width="0.8" fill="none"/>
<rect x="359.20" y="459.50" width="8.10" height="9.20" fill="#000"/>
<text x="363.25" y="455.7" font-size="6.6" text-anchor="middle" font-weight="bold" fill="#000">*</text>
<path d="M371.35,425.80 V419.30 M370.25,419.30 h2.2" stroke="#555" stroke-width="0.8" fill="none"/>
<rect x="367.60" y="426.10" width="7.50" height="42.60" fill="#9a9a9a" stroke="#6e6e6e" stroke-width="0.6"/>
<path d="M391.05,452.50 V448.50 M389.95,448.50 h2.2" stroke="#555" stroke-width="0.8" fill="none"/>
<rect x="387.00" y="452.50" width="8.10" height="16.20" fill="#000"/>
<text x="391.05" y="448.8" font-size="6.6" text-anchor="middle" font-weight="bold" fill="#000">*</text>
<path d="M399.15,410.00 V404.50 M398.05,404.50 h2.2" stroke="#555" stroke-width="0.8" fill="none"/>
<rect x="395.40" y="410.30" width="7.50" height="58.40" fill="#9a9a9a" stroke="#6e6e6e" stroke-width="0.6"/>
<path d="M418.65,468.70 V464.70 M417.55,464.70 h2.2" stroke="#555" stroke-width="0.8" fill="none"/>
<text x="418.65000000000003" y="464.3" font-size="6.6" text-anchor="middle" font-weight="bold" fill="#000">*</text>
<path d="M426.75,393.00 V389.50 M425.65,389.50 h2.2" stroke="#555" stroke-width="0.8" fill="none"/>
<rect x="423.00" y="393.30" width="7.50" height="75.40" fill="#9a9a9a" stroke="#6e6e6e" stroke-width="0.6"/>
<path d="M353,385.4 V468.7 H433" fill="none" stroke="#1c1c1c" stroke-width="1.05"/>
<text x="367.1" y="477.3" font-size="9.1" text-anchor="middle" font-weight="normal" fill="#111">ATRi</text>
<text x="396" y="477.3" font-size="9.1" text-anchor="middle" font-weight="normal" fill="#111">CHK1i</text>
<text x="423.6" y="477.3" font-size="9.1" text-anchor="middle" font-weight="normal" fill="#111">Cis</text>
<rect x="435" y="377.4" width="10" height="8.2" fill="#000"/>
<rect x="435.5" y="388.8" width="9" height="7" fill="#9a9a9a" stroke="#222" stroke-width="1.1"/>
<text x="449.5" y="384.4" font-size="9" text-anchor="start" font-weight="normal" fill="#111">ERCC1-null</text>
<text x="449.5" y="395.4" font-size="9" text-anchor="start" font-weight="normal" fill="#111">+ERCC1</text>
<defs><linearGradient id="h1" x1="0" y1="0" x2="0" y2="1"><stop offset="0" stop-color="#b4b4b4"/><stop offset="0.35" stop-color="#8a8a8a"/><stop offset="0.62" stop-color="#3c3c3c"/><stop offset="0.8" stop-color="#5a5a5a"/><stop offset="1" stop-color="#a8a8a8"/></linearGradient><linearGradient id="h2" x1="0" y1="0" x2="0" y2="1"><stop offset="0" stop-color="#c2c2c2"/><stop offset="0.35" stop-color="#cacaca"/><stop offset="0.5" stop-color="#5e5e5e"/><stop offset="0.66" stop-color="#8e8e8e"/><stop offset="1" stop-color="#b0b0b0"/></linearGradient></defs>
<rect x="436.5" y="426.3" width="35" height="12.1" fill="#d2d2d2" stroke="#0c0c0c" stroke-width="1.3"/>
<rect x="454.6" y="427.4" width="15.6" height="10" fill="url(#h1)" filter="url(#b1)"/>
<rect x="436.5" y="426.3" width="35" height="12.1" fill="none" stroke="#0c0c0c" stroke-width="1.3"/>
<rect x="436.5" y="440.1" width="35" height="11.9" fill="#bcbcbc" stroke="#0c0c0c" stroke-width="1.3"/>
<rect x="455" y="441.2" width="15" height="9.6" fill="url(#h2)" filter="url(#b1)"/>
<rect x="436.5" y="440.1" width="35" height="11.9" fill="none" stroke="#0c0c0c" stroke-width="1.3"/>
<rect x="436.5" y="454.1" width="35" height="12.2" fill="#8e8e8e" stroke="#0c0c0c" stroke-width="1.3"/>
<rect x="452.4" y="455" width="2.6" height="10.4" fill="#c4c4c4" filter="url(#b1)"/>
<path d="M438.6,458.2 C442,459.4 447,460.6 451.6,460.8" fill="none" stroke="#050505" stroke-width="4.2" stroke-linecap="round" opacity="1" filter="url(#b1)"/>
<path d="M438.6,460 L451.6,461.4" fill="none" stroke="#050505" stroke-width="3.0" stroke-linecap="round" opacity="1" filter="url(#b1)"/>
<path d="M455.8,461.6 C460,462.4 465,462 469.6,460.2" fill="none" stroke="#050505" stroke-width="4.4" stroke-linecap="round" opacity="1" filter="url(#b1)"/>
<path d="M439.6,459 L441.4,459.6" fill="none" stroke="#bbb" stroke-width="1.0" stroke-linecap="round" opacity="1" filter="url(#b1)"/>
<path d="M467.4,460.4 L468.8,460" fill="none" stroke="#aaa" stroke-width="0.9" stroke-linecap="round" opacity="1" filter="url(#b1)"/>
<rect x="436.5" y="454.1" width="35" height="12.2" fill="none" stroke="#0c0c0c" stroke-width="1.3"/>
<text x="443.5" y="424.6" font-size="9.2" text-anchor="start" font-weight="normal" fill="#111" transform="rotate(-37 443.5 424.6)">null</text>
<text x="461.5" y="424.2" font-size="9.2" text-anchor="start" font-weight="normal" fill="#111" transform="rotate(-37 461.5 424.2)">+ERCC1</text>
<text x="473.8" y="435.3" font-size="9" text-anchor="start" font-weight="normal" fill="#111">ERCC1</text>
<text x="473.8" y="448.8" font-size="9" text-anchor="start" font-weight="normal" fill="#111">XPF</text>
<text x="473.8" y="462.8" font-size="9" text-anchor="start" font-weight="normal" fill="#111">GAPDH</text>
</svg>
</body></html>
